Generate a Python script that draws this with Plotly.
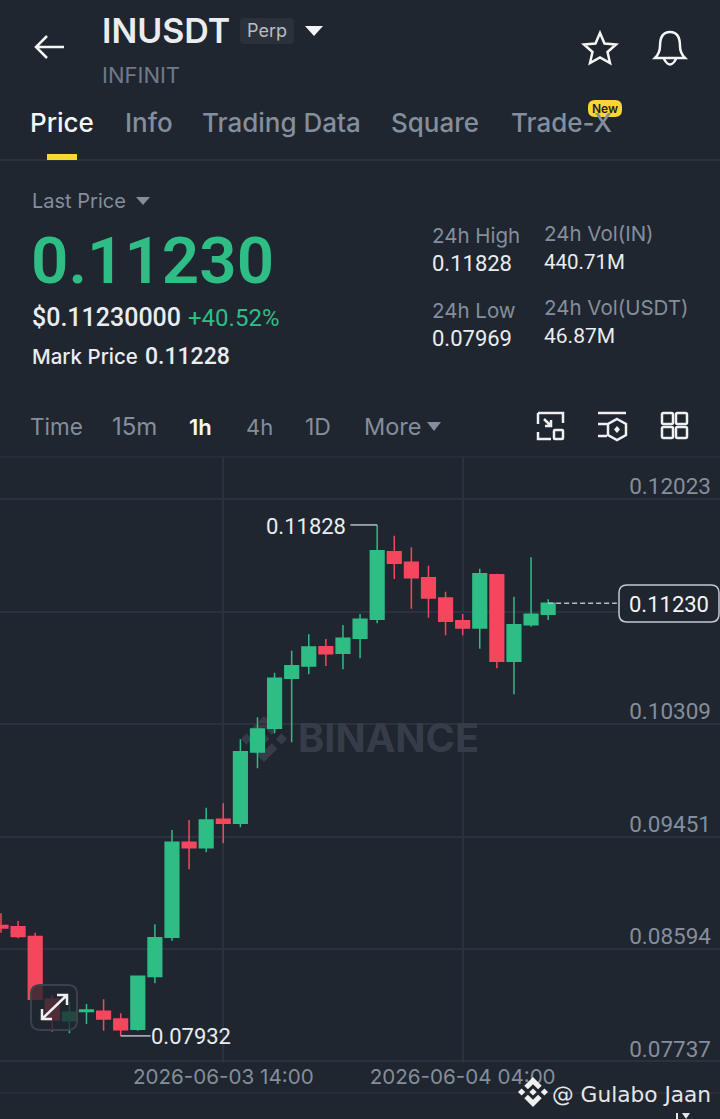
import plotly.graph_objects as go

W = 720
H = 1119

# 1h candles
times = [
    "2026-06-03 01:00", "2026-06-03 02:00", "2026-06-03 03:00", "2026-06-03 04:00",
    "2026-06-03 05:00", "2026-06-03 06:00", "2026-06-03 07:00", "2026-06-03 08:00",
    "2026-06-03 09:00", "2026-06-03 10:00", "2026-06-03 11:00", "2026-06-03 12:00",
    "2026-06-03 13:00", "2026-06-03 14:00", "2026-06-03 15:00", "2026-06-03 16:00",
    "2026-06-03 17:00", "2026-06-03 18:00", "2026-06-03 19:00", "2026-06-03 20:00",
    "2026-06-03 21:00", "2026-06-03 22:00", "2026-06-03 23:00", "2026-06-04 00:00",
    "2026-06-04 01:00", "2026-06-04 02:00", "2026-06-04 03:00", "2026-06-04 04:00",
    "2026-06-04 05:00", "2026-06-04 06:00", "2026-06-04 07:00", "2026-06-04 08:00",
    "2026-06-04 09:00",
]
opens = [
    0.08774, 0.08765, 0.08689, 0.08211, 0.08048, 0.08117, 0.08120, 0.08061,
    0.07983, 0.08384, 0.08684, 0.09408, 0.09367, 0.09584, 0.09553, 0.10097,
    0.10277, 0.10659, 0.10753, 0.10900, 0.10849, 0.10964, 0.11109, 0.11624,
    0.11543, 0.11426, 0.11271, 0.11098, 0.11042, 0.11449, 0.10788, 0.11067,
    0.11147,
]
highs = [
    0.08867, 0.08808, 0.08719, 0.08244, 0.08193, 0.08175, 0.08211, 0.08105,
    0.08391, 0.08783, 0.09502, 0.09578, 0.09672, 0.09706, 0.10194, 0.10361,
    0.10701, 0.10869, 0.10994, 0.10958, 0.11065, 0.11149, 0.11828, 0.11746,
    0.11658, 0.11517, 0.11319, 0.11149, 0.11494, 0.11456, 0.11281, 0.11581,
    0.11261,
]
lows = [
    0.08719, 0.08676, 0.08205, 0.07964, 0.07952, 0.08023, 0.07972, 0.07932,
    0.07972, 0.08333, 0.08658, 0.09202, 0.09332, 0.09401, 0.09523, 0.09973,
    0.10239, 0.10171, 0.10689, 0.10753, 0.10727, 0.10811, 0.11078, 0.11416,
    0.11189, 0.11121, 0.10987, 0.10987, 0.10884, 0.10735, 0.10537, 0.11052,
    0.11103,
]
closes = [
    0.08755, 0.08689, 0.08211, 0.08053, 0.08112, 0.08130, 0.08061, 0.07979,
    0.08387, 0.08681, 0.09408, 0.09367, 0.09578, 0.09553, 0.10099, 0.10272,
    0.10659, 0.10755, 0.10897, 0.10846, 0.10964, 0.11109, 0.11632, 0.11536,
    0.11426, 0.11271, 0.11093, 0.11042, 0.11456, 0.10788, 0.11067, 0.11147,
    0.11230,
]

price_ticks = [0.12023, 0.11166, 0.10309, 0.09451, 0.08594, 0.07737]
price_labels = ["0.12023", "0.11166", "0.10309", "0.09451", "0.08594", "0.07737"]
time_ticks = ["2026-06-03 14:00", "2026-06-04 04:00"]

last_price = 0.11230
day_high = 0.11828
day_low = 0.07932

BG = "#1f2630"
GRID = "#2b323d"
GREEN = "#2ebd85"
RED = "#f6465d"
YELLOW = "#fcd535"
GRAY = "#848e9c"
LIGHT = "#eaecef"
FONT = "Inter"
NUM = "Roboto"  # tabular digits, closer to the app's numbers


def fx(x):
    return x / W


def fy(y):
    return 1 - y / H


# path in screen pixels -> path in paper coords
def path(s):
    out = []
    is_x = True
    for tok in s.split():
        if tok.isalpha():
            out.append(tok)
        else:
            out.append(str(round(fx(float(tok)) if is_x else fy(float(tok)), 5)))
            is_x = not is_x
    return " ".join(out)


shapes = []
annotations = []


def draw(s, fill=None, line=None, lw=2, layer="above"):
    shapes.append(dict(type="path", xref="paper", yref="paper", path=path(s),
                       fillcolor=fill or "rgba(0,0,0,0)", layer=layer,
                       line=dict(color=line or "rgba(0,0,0,0)", width=lw if line else 0)))


def hline(y, color=GRID, x0=0, x1=W, lw=1.5):
    shapes.append(dict(type="line", xref="paper", yref="paper", x0=fx(x0), x1=fx(x1),
                       y0=fy(y), y1=fy(y), layer="below", line=dict(color=color, width=lw)))


def txt(x, y, s, size=20, color=GRAY, anchor="left", weight=400, family=FONT):
    if anchor == "left":
        x -= 1  # annotation box padding
    annotations.append(dict(xref="paper", yref="paper", x=fx(x), y=fy(y), text=s,
                            showarrow=False, xanchor=anchor, yanchor="middle", borderpad=0,
                            font=dict(size=size, color=color, family=family, weight=weight)))


def rrect(x0, y0, x1, y1, r):
    return (f"M {x0 + r} {y0} L {x1 - r} {y0} Q {x1} {y0} {x1} {y0 + r} L {x1} {y1 - r} "
            f"Q {x1} {y1} {x1 - r} {y1} L {x0 + r} {y1} Q {x0} {y1} {x0} {y1 - r} "
            f"L {x0} {y0 + r} Q {x0} {y0} {x0 + r} {y0} Z")


def tri(x0, x1, y0, y1, color):
    draw(f"M {x0} {y0} L {x1} {y0} L {(x0 + x1) / 2} {y1} Z", fill=color)


def logo(cx, cy, r, color, layer):
    def p(pts):
        head = " L ".join(f"{round(cx + a * r, 2)} {round(cy + b * r, 2)}" for a, b in pts)
        return "M " + head + " Z"
    d = 0.24
    for mx, my in [(0, 0), (-0.76, 0), (0.76, 0)]:
        draw(p([(mx, my - d), (mx + d, my), (mx, my + d), (mx - d, my)]), fill=color, layer=layer)
    for sgn in (1, -1):
        pts = [(0, -1), (0.58, -0.42), (0.34, -0.18), (0, -0.52), (-0.34, -0.18), (-0.58, -0.42)]
        draw(p([(a, b * sgn) for a, b in pts]), fill=color, layer=layer)


# header
draw("M 36 47 L 64 47 M 47 36 L 36 47 L 47 58", line="#f5f5f5", lw=2.5)
txt(102, 31, "INUSDT", 34, LIGHT, weight=600)
draw(rrect(240, 18, 294, 44, 4), fill="#2b313b")
txt(267, 31, "Perp", 18, "#b7bdc6", "center")
tri(305, 323, 26, 36, "#f5f5f5")
txt(102, 75, "INFINIT", 22, "#707a88")
draw("M 600 33 L 604.5 43.5 L 616 44.5 L 607.5 52 L 610 63 L 600 57.5 L 590 63 L 592.5 52 "
     "L 584 44.5 L 595.5 43.5 Z", line="#f5f5f5", lw=2.5)
draw("M 655 58 L 685 58 Q 680 53 680 46 Q 680 32 670 32 Q 660 32 660 46 Q 660 53 655 58 Z "
     "M 664 59 Q 670 70 676 59", line="#f5f5f5", lw=2.5)

# tabs
txt(30, 122, "Price", 26, "#f5f5f5", weight=500)
txt(125, 122, "Info", 26, GRAY, weight=500)
txt(202, 122, "Trading Data", 26, GRAY, weight=500)
txt(391, 122, "Square", 26, GRAY, weight=500)
txt(511, 122, "Trade-X", 26, GRAY, weight=500)
draw(rrect(588, 100, 622, 117, 7), fill=YELLOW)
txt(605, 108.5, "New", 12, "#1e2329", "center", 600)
hline(160, GRID, lw=2)
draw("M 47 154 L 77 154 L 77 160 L 47 160 Z", fill=YELLOW)

# price block
txt(32, 201, "Last Price", 20, GRAY)
tri(136, 150, 197, 205, GRAY)
txt(30.5, 260, "0.11230", 65.5, GREEN, weight=600, family=NUM)
txt(32, 318, "$0.11230000", 25, LIGHT, weight=500, family=NUM)
txt(188, 318, "+40.52%", 24, GREEN, weight=400, family=NUM)
txt(32, 356, "Mark Price", 20.5, LIGHT, weight=500)
txt(145, 356, "0.11228", 23, LIGHT, weight=500, family=NUM)

txt(432, 235, "24h High", 20.5, GRAY)
txt(432, 264, "0.11828", 22, LIGHT, family=NUM)
txt(432, 310, "24h Low", 20.5, GRAY)
txt(432, 338, "0.07969", 22, LIGHT, family=NUM)
txt(544, 233, "24h Vol(IN)", 20.5, GRAY)
txt(544, 262, "440.71M", 20.5, LIGHT, family=NUM)
txt(544, 307, "24h Vol(USDT)", 20.5, GRAY)
txt(544, 336, "46.87M", 21, LIGHT, family=NUM)

# interval row
txt(30, 427, "Time", 22.5, GRAY)
txt(112, 427, "15m", 24, GRAY)
txt(189, 427, "1h", 22, "#f5f5f5", weight=600)
txt(246, 427, "4h", 22, GRAY)
txt(305, 427, "1D", 23, GRAY)
txt(364, 427, "More", 23.5, GRAY)
tri(427, 441, 422, 431, GRAY)
draw("M 538 413 L 563 413 L 563 423 M 538 413 L 538 424 M 538 432 L 538 439 L 551 439 "
     "M 544 419 L 551 426 M 551 420 L 551 426 L 545 426", line="#f0f0f0", lw=2.5)
draw(rrect(554, 430, 563, 439, 1), line="#f0f0f0", lw=2.5)
draw("M 598 413 L 626 413 M 598 424 L 607 424 M 598 436 L 607 436 "
     "M 617 419 L 626 424 L 626 435 L 617 440 L 608 435 L 608 424 Z", line="#f0f0f0", lw=2.5)
draw("M 617 426 L 620 429.5 L 617 433 L 614 429.5 Z", fill="#f0f0f0")
for ix, iy in [(662, 413), (676, 413), (662, 427), (676, 427)]:
    draw(rrect(ix, iy, ix + 11, iy + 11, 1.5), line="#f0f0f0", lw=2.5)

# chart frame
hline(457, GRID)
hline(1093, GRID)

# watermark under the candles
logo(264, 739, 23, "#363d49", "below")
txt(298, 738, "BINANCE", 39.7, "#363d49", weight=700)

fig = go.Figure(go.Candlestick(
    x=times, open=opens, high=highs, low=lows, close=closes,
    increasing=dict(line=dict(color=GREEN, width=1.5), fillcolor=GREEN),
    decreasing=dict(line=dict(color=RED, width=1.5), fillcolor=RED),
    whiskerwidth=0, showlegend=False, hoverinfo="skip",
))

# high / low markers and last price line
fig.add_trace(go.Scatter(x=["2026-06-03 21:26", times[22]], y=[day_high, day_high], mode="lines",
                         line=dict(color="#b7bdc6", width=1.5), showlegend=False, hoverinfo="skip"))
fig.add_trace(go.Scatter(x=["2026-06-03 09:45", times[7]], y=[day_low, day_low], mode="lines",
                         line=dict(color="#b7bdc6", width=1.5), showlegend=False, hoverinfo="skip"))
fig.add_trace(go.Scatter(x=[times[32], "2026-06-04 13:01"], y=[last_price, last_price], mode="lines",
                         line=dict(color="#b7bdc6", width=1.5, dash="5px,3px"), showlegend=False,
                         hoverinfo="skip"))
txt(347, 526, "0.11828", 22, LIGHT, "right", family=NUM)
txt(151, 1036, "0.07932", 22, LIGHT, family=NUM)

# last price tag
draw(rrect(619, 585, 719, 622, 8), fill=BG, line="#c4c9d0", lw=1.5)
txt(669, 604, "0.11230", 22, "#f5f5f5", "center", family=NUM)

# expand button
draw(rrect(31, 985, 77, 1030, 9), fill="rgba(31,38,48,0.78)", line="#3b424e", lw=2)
draw("M 42 1019 L 67 995 M 57 995 L 67 995 L 67 1005 M 42 1009 L 42 1019 L 52 1019",
     line="#f0f0f0", lw=2.5)

# photo credit
logo(533, 1092, 15, "#f0f0f0", "above")
txt(552, 1094, "@ Gulabo Jaan", 21.7, "#e6e6e6", family="DejaVu Sans")
draw("M 677 1113 L 677 1119", line="#e6e6e6", lw=2)
tri(682, 690, 1113, 1119, "#e6e6e6")

# axis runs a few px under the last grid line so its label is kept; hide the grid stubs there
draw("M 200 1062.5 L 490 1062.5 L 490 1066 L 200 1066 Z", fill=BG)

fig.update_layout(
    width=W, height=H, autosize=False,
    margin=dict(l=0, r=0, t=0, b=0),
    paper_bgcolor=BG, plot_bgcolor=BG,
    boxgap=0.2, boxgroupgap=0,
    font=dict(family=FONT, color=GRAY, size=20),
    shapes=shapes, annotations=annotations,
    xaxis=dict(
        domain=[0, 1], type="date",
        range=["2026-06-03 00:56:31", "2026-06-04 19:03:00"],
        rangeslider=dict(visible=False),
        tickmode="array", tickvals=time_ticks, tickformat="%Y-%m-%d %H:%M",
        showgrid=True, gridcolor=GRID, gridwidth=1.5, zeroline=False, showline=False,
        ticks="", ticklabelstandoff=-3,
        tickfont=dict(size=20.6, color=GRAY, family=FONT),
    ),
    yaxis=dict(
        domain=[fy(1065), fy(457)], side="right",
        range=[0.07710, 0.12346],
        tickmode="array", tickvals=price_ticks, ticktext=price_labels,
        ticklabelposition="inside top", ticklabelstandoff=6, ticklabelshift=3,
        showgrid=True, gridcolor=GRID, gridwidth=1.5, zeroline=False, showline=False,
        ticks="", tickfont=dict(size=22.5, color=GRAY, family=NUM),
    ),
)

fig.write_html("out.html", config=dict(displayModeBar=False),
               post_script="document.body.style.margin='0';document.body.style.background='%s';" % BG)
